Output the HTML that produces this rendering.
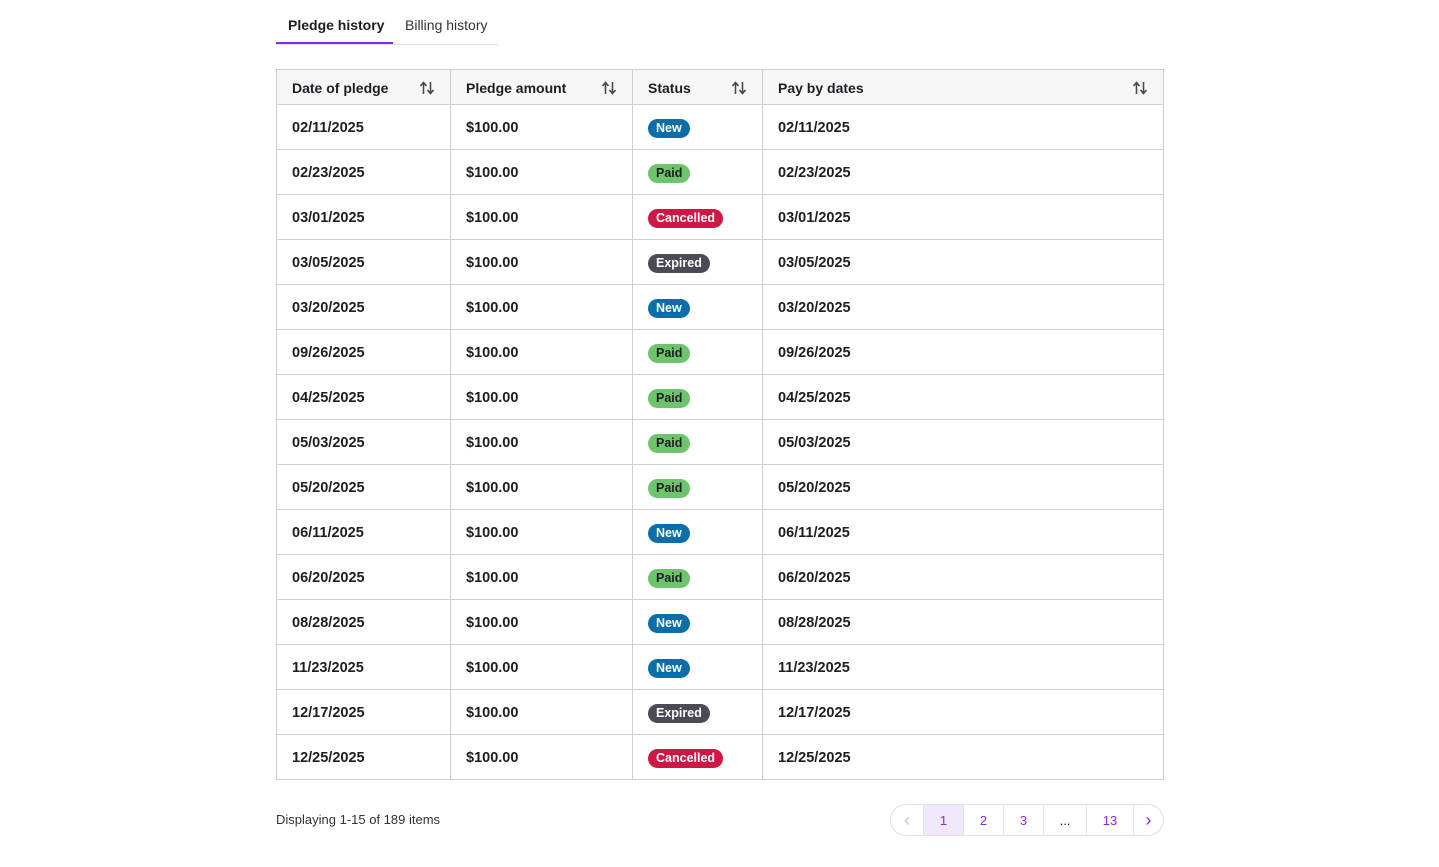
<!DOCTYPE html>
<html><head><meta charset="utf-8"><style>
*{box-sizing:border-box;margin:0;padding:0}
body{width:1439px;height:867px;background:#fff;font-family:"Liberation Sans",sans-serif;color:#222;position:relative;overflow:hidden}
.tabs{position:absolute;left:276px;top:0;width:223px;height:45px;border-bottom:1px solid #e2e0e6}
.tab{position:absolute;top:17px;font-size:14px}
.t1{left:12px;font-weight:bold;color:#1f1d24}
.t2{left:129px;color:#333}
.ul{position:absolute;left:0;top:42px;width:117px;height:2px;background:#8a2be2}
table{position:absolute;left:276px;top:69px;width:888px;border-collapse:collapse}
td,th{border:1px solid #d0cdd6;height:45px;padding:2px 15px 0;text-align:left;font-size:14.5px;font-weight:bold;color:#1f1d24;position:relative}
th{height:35px;padding-top:1px;background:#f7f7f8;font-size:14px}
.s{position:absolute;right:15px;top:10px;width:16px;height:16px}
.b{display:inline-block;height:19px;line-height:19px;border-radius:10px;padding:0 8px;font-size:12.5px;color:#fff;font-weight:bold}
.new{background:#0b6ea8}.paid{background:#6cc56a;color:#1f1d24}.can{background:#cf1746}.exp{background:#4d4a55}
.disp{position:absolute;left:276px;top:812px;font-size:13px;color:#333}
.pg{position:absolute;left:890px;top:804px;width:274px;height:32px;border:1px solid #e2e0e6;border-radius:16px;display:flex;overflow:hidden}
.pg div{border-left:1px solid #e2e0e6;display:flex;align-items:center;justify-content:center;font-size:13px;color:#8a2be2}
.pg div:first-child{border-left:none}
</style></head><body>
<svg width="0" height="0" style="position:absolute"><defs><g id="srt"><path d="M4.5 14V3M1.5 6L4.5 2.5 7.5 6M11.5 2v11M8.5 10l3 3.5 3-3.5" fill="none" stroke="#4a4750" stroke-width="1.6"/></g></defs></svg>
<div class="tabs"><span class="tab t1">Pledge history</span><span class="tab t2">Billing history</span><div class="ul"></div></div>
<table>
<tr><th style="width:174px">Date of pledge<svg class="s"><use href="#srt"/></svg></th><th style="width:182px">Pledge amount<svg class="s"><use href="#srt"/></svg></th><th style="width:130px">Status<svg class="s"><use href="#srt"/></svg></th><th>Pay by dates<svg class="s"><use href="#srt"/></svg></th></tr>
<tr><td>02/11/2025</td><td>$100.00</td><td><span class="b new">New</span></td><td>02/11/2025</td></tr>
<tr><td>02/23/2025</td><td>$100.00</td><td><span class="b paid">Paid</span></td><td>02/23/2025</td></tr>
<tr><td>03/01/2025</td><td>$100.00</td><td><span class="b can">Cancelled</span></td><td>03/01/2025</td></tr>
<tr><td>03/05/2025</td><td>$100.00</td><td><span class="b exp">Expired</span></td><td>03/05/2025</td></tr>
<tr><td>03/20/2025</td><td>$100.00</td><td><span class="b new">New</span></td><td>03/20/2025</td></tr>
<tr><td>09/26/2025</td><td>$100.00</td><td><span class="b paid">Paid</span></td><td>09/26/2025</td></tr>
<tr><td>04/25/2025</td><td>$100.00</td><td><span class="b paid">Paid</span></td><td>04/25/2025</td></tr>
<tr><td>05/03/2025</td><td>$100.00</td><td><span class="b paid">Paid</span></td><td>05/03/2025</td></tr>
<tr><td>05/20/2025</td><td>$100.00</td><td><span class="b paid">Paid</span></td><td>05/20/2025</td></tr>
<tr><td>06/11/2025</td><td>$100.00</td><td><span class="b new">New</span></td><td>06/11/2025</td></tr>
<tr><td>06/20/2025</td><td>$100.00</td><td><span class="b paid">Paid</span></td><td>06/20/2025</td></tr>
<tr><td>08/28/2025</td><td>$100.00</td><td><span class="b new">New</span></td><td>08/28/2025</td></tr>
<tr><td>11/23/2025</td><td>$100.00</td><td><span class="b new">New</span></td><td>11/23/2025</td></tr>
<tr><td>12/17/2025</td><td>$100.00</td><td><span class="b exp">Expired</span></td><td>12/17/2025</td></tr>
<tr><td>12/25/2025</td><td>$100.00</td><td><span class="b can">Cancelled</span></td><td>12/25/2025</td></tr>
</table>
<div class="disp">Displaying 1-15 of 189 items</div>
<div class="pg">
<div style="width:32px;color:#c8c4d0;font-size:18px">‹</div>
<div style="width:40px;background:#f1e8fc">1</div>
<div style="width:40px">2</div>
<div style="width:40px">3</div>
<div style="width:43px;color:#222">...</div>
<div style="width:47px">13</div>
<div style="flex:1;font-size:18px">›</div>
</div>
</body></html>
